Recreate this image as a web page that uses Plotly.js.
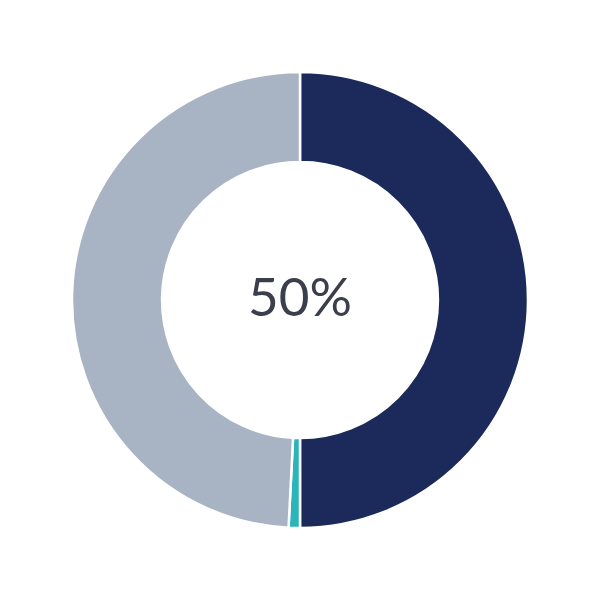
<!DOCTYPE html>
<html>
<head>
<meta charset="utf-8">
<script src="https://cdn.plot.ly/plotly-3.0.1.min.js"></script>
<style>html,body{margin:0;padding:0;background:#fff;}#chart{width:600px;height:600px;}</style>
</head>
<body>
<div id="chart"></div>
<script>
const labels = ["Achieved", "Marker", "Remaining"];
const values = [50, 0.8, 49.2];
const colors = ["#1b2a5a", "#2bb5b8", "#a8b3c4"];
const centerText = "50%";

Plotly.newPlot("chart", [{
  type: "pie",
  labels: labels,
  values: values,
  hole: 0.605,
  sort: false,
  direction: "clockwise",
  rotation: 0,
  textinfo: "none",
  hoverinfo: "none",
  marker: {colors: colors, line: {color: "#ffffff", width: 2.5}},
  domain: {x: [0.12, 0.88], y: [0.12, 0.88]}
}], {
  width: 600, height: 600,
  margin: {l: 0, r: 0, t: 0, b: 0},
  showlegend: false,
  paper_bgcolor: "#ffffff",
  annotations: [{
    text: centerText, x: 0.5, y: 0.5, xref: "paper", yref: "paper",
    yshift: 5,
    showarrow: false, font: {family: "Lato, sans-serif", size: 53, color: "#3a3f4b"}
  }]
}, {staticPlot: true});
</script>
</body>
</html>
